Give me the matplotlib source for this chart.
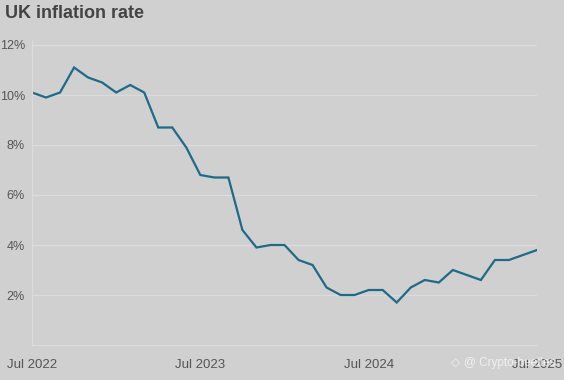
import numpy as np
import matplotlib.pyplot as plt

# monthly UK CPI, Jul 2022 .. Jul 2025
rate = [10.1, 9.9, 10.1, 11.1, 10.7, 10.5, 10.1, 10.4, 10.1, 8.7, 8.7, 7.9,
        6.8, 6.7, 6.7, 4.6, 3.9, 4.0, 4.0, 3.4, 3.2, 2.3, 2.0, 2.0,
        2.2, 2.2, 1.7, 2.3, 2.6, 2.5, 3.0, 2.8, 2.6, 3.4, 3.4, 3.6,
        3.8]
months = np.arange(len(rate))
xtick_pos = [0, 12, 24, 36]
xtick_labels = ["Jul 2022", "Jul 2023", "Jul 2024", "Jul 2025"]
ytick_pos = [2, 4, 6, 8, 10, 12]

bg = "#d0d0d0"
plt.rcParams['font.family'] = ['Liberation Sans', 'DejaVu Sans']

fig = plt.figure(figsize=(5.64, 3.8), dpi=100, facecolor=bg)
ax = fig.add_axes([32/564, 35/380, 505/564, 305/380], facecolor=bg)

ax.plot(months, rate, color="#1d6a89", lw=1.6, solid_joinstyle="miter")

ax.set_xlim(0, 36)
ax.set_ylim(0, 12.2)
ax.set_xticks(xtick_pos)
ax.set_xticklabels(xtick_labels)
ax.set_yticks(ytick_pos)
ax.set_yticklabels([f"{v}%" for v in ytick_pos])
ax.tick_params(length=0, labelcolor="#555555")
ax.tick_params(axis="y", pad=5, labelsize=9)
ax.tick_params(axis="x", pad=10, labelsize=9.5)
ax.grid(axis="y", color="#dbdbdb", lw=0.9)
ax.set_axisbelow(True)
for s in ["top", "right"]:
    ax.spines[s].set_visible(False)
for s in ["left", "bottom"]:
    ax.spines[s].set_color("#dbdbdb")
    ax.spines[s].set_linewidth(0.9)

fig.text(5/564, 1 - 14/380, "UK inflation rate", fontsize=13, fontweight="bold",
         color="#444444", va="center", ha="left")

# watermark
fig.text(451/564, 1 - 363/380, "\u25c7", fontsize=8.5, color="white", alpha=0.7,
         va="center", ha="left", family="DejaVu Sans")
fig.text(464/564, 1 - 363/380, "@ Crypto-beetles", fontsize=8.5, color="white",
         alpha=0.7, va="center", ha="left")

fig.savefig("out.png", dpi=100, facecolor=bg)
